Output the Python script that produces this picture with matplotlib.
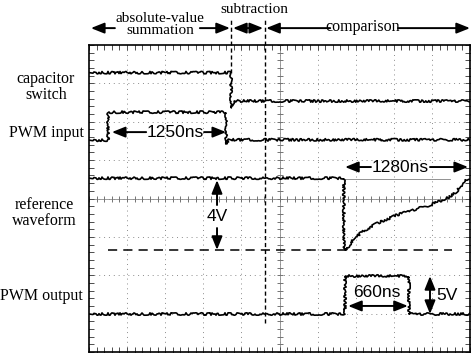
import matplotlib.pyplot as plt
import numpy as np

# scope traces in divisions (x: 0..10, y: 0..8)
cap_x = [0, 3.73, 3.73, 3.80, 10]
cap_y = [7.28, 7.28, 6.36, 6.54, 6.54]

pwm_in_x = [0, 0.50, 0.50, 3.60, 3.60, 3.68, 10]
pwm_in_y = [5.52, 5.52, 6.25, 6.25, 5.42, 5.53, 5.53]

ref_x = [0, 6.69, 6.69, 6.77, 6.93, 7.19, 7.64, 8.08, 8.50, 8.95, 9.40, 9.61, 9.74, 9.87, 9.95, 10]
ref_y = [4.53, 4.53, 2.66, 2.68, 2.92, 3.15, 3.39, 3.57, 3.70, 3.83, 4.01, 4.14, 4.30, 4.45, 4.51, 4.51]

pwm_out_x = [0, 6.72, 6.72, 8.40, 8.40, 10]
pwm_out_y = [0.99, 0.99, 1.98, 1.98, 0.99, 0.99]

ref_level = 2.66
phase_x = [3.73, 4.62]

row_labels = ["capacitor\nswitch", "PWM input", "reference\nwaveform", "PWM output"]
row_label_pos = [(46, 87), (46, 133), (44, 213), (41, 296)]

serif = "Liberation Serif"
sans = "Liberation Sans"

fig = plt.figure(figsize=(4.74, 3.55), dpi=100)
ax = fig.add_axes([89 / 474, 3 / 355, 381 / 474, 307 / 355])
ax.set_xlim(0, 10)
ax.set_ylim(0, 8)
ax.set_xticks([])
ax.set_yticks([])
for s in ax.spines.values():
    s.set_linewidth(1.2)

# graticule
for i in range(1, 10):
    ax.axvline(i, color="0.55", lw=0.7, ls=(0, (1, 4)), zorder=1)
for j in range(1, 8):
    ax.axhline(j, color="0.55", lw=0.7, ls=(0, (1, 4)), zorder=1)
ax.axvline(5, color="0.55", lw=0.6, zorder=1)
ax.axhline(4, color="0.55", lw=0.6, zorder=1)
mx = np.arange(0, 10.01, 0.2)
my = np.arange(0, 8.01, 0.2)
ax.plot(mx, np.full_like(mx, 4), ls="none", marker="|", ms=4, color="0.45", mew=0.7)
ax.plot(np.full_like(my, 5), my, ls="none", marker="_", ms=4, color="0.45", mew=0.7)
ax.plot(mx, np.full_like(mx, 0.05), ls="none", marker="|", ms=4, color="0.3", mew=0.7)
ax.plot(mx, np.full_like(mx, 7.95), ls="none", marker="|", ms=4, color="0.3", mew=0.7)
ax.plot(np.full_like(my, 0.05), my, ls="none", marker="_", ms=4, color="0.3", mew=0.7)
ax.plot(np.full_like(my, 9.95), my, ls="none", marker="_", ms=4, color="0.3", mew=0.7)

# traces
for tx, ty in [(cap_x, cap_y), (pwm_in_x, pwm_in_y), (ref_x, ref_y), (pwm_out_x, pwm_out_y)]:
    ln, = ax.plot(tx, ty, color="black", lw=1.2, zorder=3)
    ln.set_sketch_params(scale=1.2, length=3, randomness=30)
ax.plot([ref_x[1], 9.48], [4.51, 4.51], color="0.5", lw=0.6, zorder=2)

ax.plot([0.50, 9.53], [ref_level, ref_level], color="black", lw=1.1, ls=(0, (6, 4)), zorder=3)
ax.plot([phase_x[0], phase_x[0]], [7.28, 8.65], color="black", lw=1.0, ls=(0, (3, 2)), clip_on=False)
ax.plot([phase_x[1], phase_x[1]], [0.76, 8.65], color="black", lw=1.0, ls=(0, (3, 2)), clip_on=False)

arrow = dict(arrowstyle="-|>,head_length=0.8,head_width=0.32", color="black", lw=1.4, shrinkA=0, shrinkB=0)
arrow2 = dict(arrowstyle="<|-|>,head_length=0.8,head_width=0.32", color="black", lw=1.4, shrinkA=0, shrinkB=0)

def arr(x0, y0, x1, y1, style=arrow):
    return ax.annotate("", xy=(x1, y1), xytext=(x0, y0), arrowprops=style, annotation_clip=False)

# phase labels above the screen
ax.text(1.86, 8.54, "absolute-value\nsummation", ha="center", va="center", fontsize=11,
        family=serif, linespacing=0.95, clip_on=False)
arr(0.68, 8.44, 0.05, 8.44)
arr(2.91, 8.44, 3.70, 8.44)
ax.text(4.33, 8.92, "subtraction", ha="center", va="center", fontsize=11, family=serif, clip_on=False)
arr(3.78, 8.44, 4.57, 8.44, style=arrow2)
ax.text(7.19, 8.46, "comparison", ha="center", va="center", fontsize=11.5, family=serif, clip_on=False)
arr(6.33, 8.44, 4.65, 8.44)
arr(8.11, 8.44, 10.0, 8.44)

for lab, (px, py) in zip(row_labels, row_label_pos):
    fig.text(px / 474, 1 - py / 355, lab, ha="center", va="center", fontsize=11.5,
             family=serif, linespacing=1.0)

# measurements
ax.text(2.26, 5.73, "1250ns", ha="center", va="center", fontsize=12.5, family=sans)
arr(1.50, 5.73, 0.60, 5.73)
arr(3.02, 5.73, 3.60, 5.73)

ax.text(8.16, 4.82, "1280ns", ha="center", va="center", fontsize=12.5, family=sans)
arr(7.40, 4.82, 6.72, 4.82)
arr(8.95, 4.82, 9.95, 4.82)

ax.text(3.36, 3.52, "4V", ha="center", va="center", fontsize=12.5, family=sans)
arr(3.36, 3.83, 3.36, 4.48)
arr(3.36, 3.23, 3.36, 2.66)

ax.text(7.56, 1.56, "660ns", ha="center", va="center", fontsize=12.5, family=sans)
arr(6.80, 1.20, 8.37, 1.20, style=arrow2)

ax.text(9.40, 1.46, "5V", ha="center", va="center", fontsize=12.5, family=sans)
arr(8.95, 0.99, 8.95, 1.98, style=arrow2)

plt.savefig("out.png", dpi=100)
